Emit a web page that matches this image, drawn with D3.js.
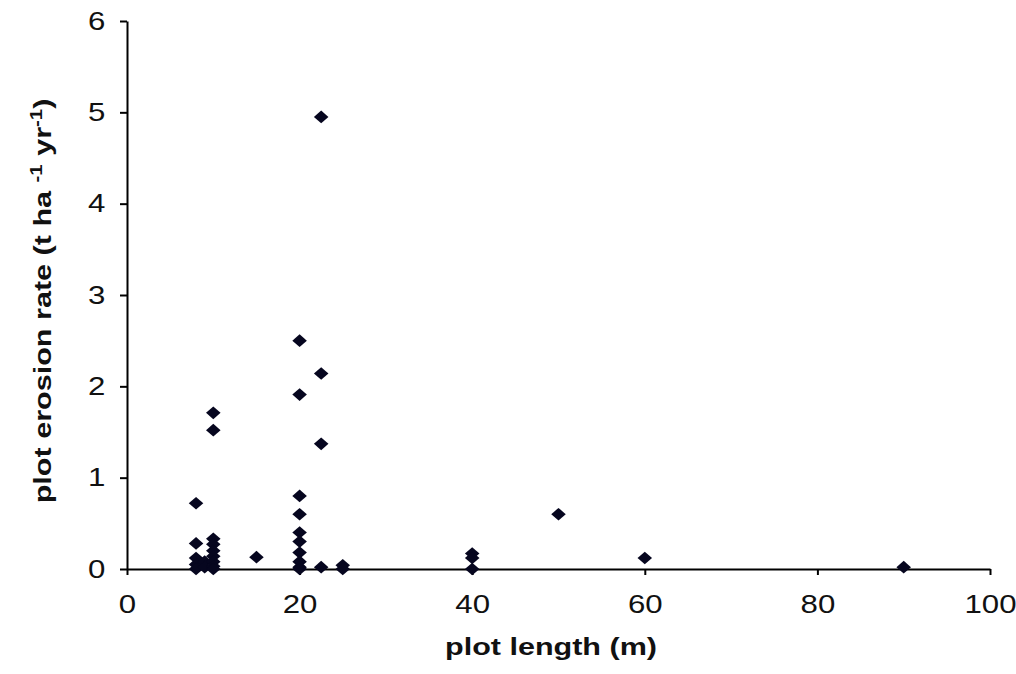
<!DOCTYPE html>
<html>
<head>
<meta charset="utf-8">
<script src="https://cdn.jsdelivr.net/npm/d3@7"></script>
<style>
  body { margin: 0; background: #fff; overflow: hidden; }
  svg { display: block; }
  text { font-family: "Liberation Sans", Arial, sans-serif; }
</style>
</head>
<body>
<div id="chart"></div>
<script>
// plot length (m) for each point
const plotLength = [
    8, 8, 8, 8, 8,
    9, 9,
    10, 10, 10, 10, 10, 10, 10, 10, 10,
    15,
    20, 20, 20, 20, 20, 20, 20, 20, 20, 20,
    22.5, 22.5, 22.5, 22.5,
    25, 25,
    40, 40, 40,
    50, 60, 90
];
// plot erosion rate (t ha-1 yr-1)
const erosionRate = [
    0.72, 0.28, 0.12, 0.05, 0.0,
    0.08, 0.02,
    1.71, 1.52, 0.33, 0.27, 0.2, 0.14, 0.08, 0.03, 0.0,
    0.13,
    2.5, 1.91, 0.8, 0.6, 0.4, 0.3, 0.18, 0.08, 0.02, 0.0,
    4.95, 2.14, 1.37, 0.02,
    0.04, 0.0,
    0.17, 0.12, 0.0,
    0.6, 0.12, 0.02
];
const xTicks = [0, 20, 40, 60, 80, 100];
const yTicks = [0, 1, 2, 3, 4, 5, 6];

const data = plotLength.map((x, i) => ({ x: x, y: erosionRate[i] }));

const width = 1016;
const height = 674;
const margin = { top: 21, right: 26, bottom: 105, left: 127 };
const innerWidth = width - margin.left - margin.right;
const innerHeight = height - margin.top - margin.bottom;

// the original figure is a bit stretched sideways
const stretch = 1.2;

const svg = d3.select('#chart')
    .append('svg')
    .attr('width', width)
    .attr('height', height);

const chart = svg.append('g')
    .attr('transform', `translate(${margin.left}, ${margin.top})`);

const xScale = d3.scaleLinear().domain([0, 100]).range([0, innerWidth]);
const yScale = d3.scaleLinear().domain([0, 6]).range([innerHeight, 0]);

// axes
const xAxis = d3.axisBottom(xScale).tickValues(xTicks).tickFormat(d3.format('d'))
    .tickSize(6).tickSizeOuter(0).tickPadding(20);
const gx = chart.append('g')
    .attr('transform', `translate(0, ${innerHeight})`)
    .call(xAxis);
gx.selectAll('text')
    .style('font-size', '26px')
    .attr('fill', '#111')
    .attr('transform', `scale(${stretch}, 1)`);

const yAxis = d3.axisLeft(yScale).tickValues(yTicks).tickFormat(d3.format('d'))
    .tickSize(7).tickSizeOuter(0).tickPadding(11);
const gy = chart.append('g').call(yAxis);
gy.selectAll('text')
    .style('font-size', '26px')
    .attr('fill', '#111')
    .attr('transform', `scale(${stretch}, 1)`);

chart.selectAll('.domain, .tick line').attr('stroke', '#000').attr('stroke-width', 2);

// points
const diamond = d3.symbol().type(d3.symbolSquare).size(80);
chart.selectAll('.pt')
    .data(data)
    .enter()
    .append('path')
    .attr('class', 'pt')
    .attr('d', diamond)
    .attr('transform', d => `translate(${xScale(d.x)}, ${yScale(d.y)}) scale(1.15, 1) rotate(45)`)
    .attr('fill', '#06061f');

// axis titles
chart.append('text')
    .attr('x', 551 - margin.left)
    .attr('y', 655 - margin.top)
    .style('text-anchor', 'middle')
    .style('font-size', '24px')
    .style('font-weight', 'bold')
    .attr('fill', '#111')
    .attr('textLength', 212)
    .attr('lengthAdjust', 'spacingAndGlyphs')
    .text('plot length (m)');

const yl = chart.append('text')
    .attr('transform', 'rotate(-90)')
    .attr('x', -(301 - margin.top))
    .attr('y', 51 - margin.left)
    .style('text-anchor', 'middle')
    .style('font-size', '24px')
    .style('font-weight', 'bold')
    .attr('fill', '#111');
yl.append('tspan').text('plot erosion rate (t ha ');
yl.append('tspan').attr('dy', -9).style('font-size', '16px').text('-1');
yl.append('tspan').attr('dy', 9).text(' yr');
yl.append('tspan').attr('dy', -9).style('font-size', '16px').text('-1');
yl.append('tspan').attr('dy', 9).text(')');
// widen the rotated title to the length seen in the original
const ylLen = yl.node().getComputedTextLength();
yl.attr('transform', `rotate(-90) scale(${405 / ylLen}, 1)`)
    .attr('x', -(301 - margin.top) * ylLen / 405);
</script>
</body>
</html>
